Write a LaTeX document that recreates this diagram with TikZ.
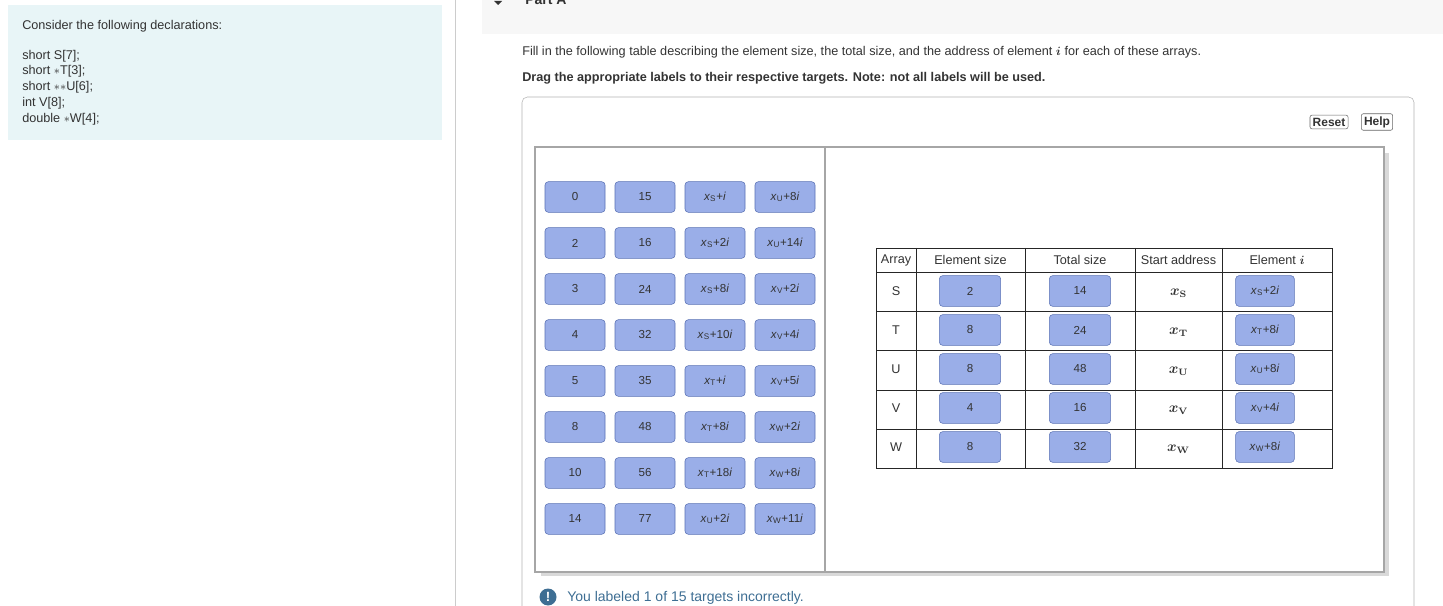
\documentclass[tikz,border=0pt]{standalone}
\usepackage{amsmath,amssymb}
\usepackage[no-math]{fontspec}
\setmainfont{Liberation Sans}
\definecolor{txt}{HTML}{333333}
\definecolor{lbl}{HTML}{9AAEE8}
\definecolor{lbd}{HTML}{5A72B5}
\definecolor{cyanbg}{HTML}{E8F5F7}
\definecolor{hdr}{HTML}{F7F7F7}
\definecolor{msg}{HTML}{3E6E93}
\newcommand{\xl}[2]{\textit{x}\textsubscript{#1}#2}
\begin{document}
\begin{tikzpicture}[x=0.75pt,y=-0.75pt,
  every node/.style={text=txt,font=\fontsize{9.5}{11}\selectfont},
  lab/.style={draw=lbd,fill=lbl,rounded corners=2.5pt,minimum width=45pt,minimum height=23pt,inner sep=0pt,font=\fontsize{8.7}{10}\selectfont},
  btn/.style={draw=gray!80!black,rounded corners=1.5pt,inner sep=2pt,font=\bfseries\fontsize{9}{10}\selectfont},
  plain/.style={anchor=base west,inner sep=0pt}]
\useasboundingbox (0,0) rectangle (1443,606);
% left panel
\fill[cyanbg] (8,5) rectangle (442,140);
\node[plain] (c0) at (22,30) {Consider the following declarations:};
\node[plain] (c1) at (22,60) {short S[7];};
\node[plain] (c2) at (22,75) {short $\ast$T[3];};
\node[plain] (c3) at (22,91) {short $\ast\ast$U[6];};
\node[plain] (c4) at (22,107) {int V[8];};
\node[plain] (c5) at (22,123) {double $\ast$W[4];};
\draw[gray!40] (455,0) -- (455,606);
% header
\fill[hdr] (482,-5) rectangle (1443,34);
\fill[black!80] (494,1) -- (502,1) -- (498,5) -- cycle;
\node[plain,font=\bfseries\fontsize{10.5}{12}\selectfont] (pa) at (525,5) {Part A};
\node[plain] (f1) at (522,56) {Fill in the following table describing the element size, the total size, and the address of element $\boldsymbol{i}$ for each of these arrays.};
\node[plain,font=\bfseries\fontsize{9.5}{11}\selectfont] (f2) at (522,82) {Drag the appropriate labels to their respective targets. Note: not all labels will be used.};
% outer box
\draw[gray!60,rounded corners=4pt] (522,620) -- (522,97) -- (1414,97) -- (1414,620);
\node[btn] (reset) at (1329,122) {Reset};
\node[btn] (help) at (1377,122) {Help};
% inner panel
\fill[gray!30] (541,153) rectangle (1389,576);
\draw[gray!70,line width=1.2pt,fill=white] (535,147) rectangle (1384,572);
\draw[gray!70,line width=1.2pt] (825,147) -- (825,572);
% labels
\foreach \r/\a/\b/\c/\d in {0/0/15/{\xl{S}{+\textit{i}}}/{\xl{U}{+8\textit{i}}},
  1/2/16/{\xl{S}{+2\textit{i}}}/{\xl{U}{+14\textit{i}}},
  2/3/24/{\xl{S}{+8\textit{i}}}/{\xl{V}{+2\textit{i}}},
  3/4/32/{\xl{S}{+10\textit{i}}}/{\xl{V}{+4\textit{i}}},
  4/5/35/{\xl{T}{+\textit{i}}}/{\xl{V}{+5\textit{i}}},
  5/8/48/{\xl{T}{+8\textit{i}}}/{\xl{W}{+2\textit{i}}},
  6/10/56/{\xl{T}{+18\textit{i}}}/{\xl{W}{+8\textit{i}}},
  7/14/77/{\xl{U}{+2\textit{i}}}/{\xl{W}{+11\textit{i}}}}{
  \node[lab] (la\r) at (575,197+46*\r) {\a};
  \node[lab] (lb\r) at (645,197+46*\r) {\b};
  \node[lab] (lc\r) at (715,197+46*\r) {\c};
  \node[lab] (ld\r) at (785,197+46*\r) {\d};
}
% table
\draw[black!85] (876,248) rectangle (1332,468);
\foreach \x in {916,1025,1135,1222} \draw[black!85] (\x,248) -- (\x,468);
\foreach \y in {272,311,350,390,429} \draw[black!85] (876,\y) -- (1332,\y);
\node (h1) at (896,260) {Array};
\node (h2) at (970.5,260) {Element size};
\node (h3) at (1080,260) {Total size};
\node (h4) at (1178.5,260) {Start address};
\node (h5) at (1277,260) {Element $\boldsymbol{i}$};
\foreach \r/\n/\e/\t/\f in {0/S/2/14/+2\textit{i},1/T/8/24/+8\textit{i},2/U/8/48/+8\textit{i},3/V/4/16/+4\textit{i},4/W/8/32/+8\textit{i}}{
  \node (ar\r) at (896,291.5+39*\r) {\n};
  \node[lab,minimum width=46pt] (es\r) at (970,291+39*\r) {\e};
  \node[lab,minimum width=46pt] (ts\r) at (1080,291+39*\r) {\t};
  \node[font=\fontsize{10.5}{12}\selectfont] (sa\r) at (1178.5,293+39*\r) {$\boldsymbol{x}_{\mathbf{\n}}$};
  \node[lab,minimum width=44pt] (ei\r) at (1265,291+39*\r) {\xl{\n}{\f}};
}
% message
\fill[msg] (548,597) circle (8.5);
\node[text=white,font=\bfseries\fontsize{10}{12}\selectfont,inner sep=0pt] (ic) at (548,597) {!};
\node[plain,text=msg,font=\fontsize{10.5}{12}\selectfont] (m) at (567,601) {You labeled 1 of 15 targets incorrectly.};
\end{tikzpicture}
\end{document}
